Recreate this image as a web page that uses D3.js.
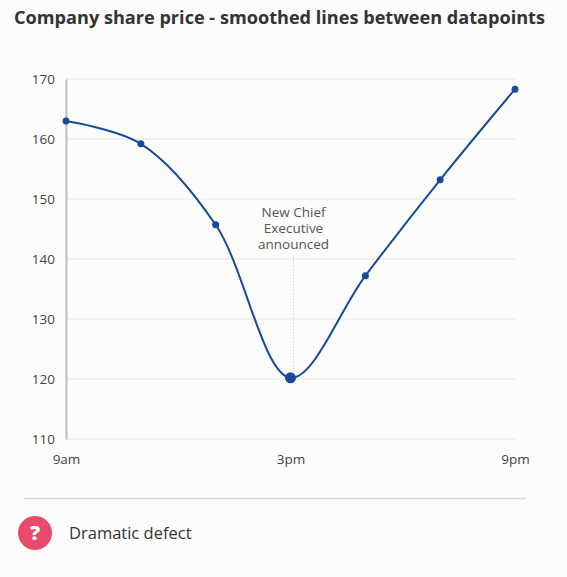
<!DOCTYPE html>
<html>
<head>
<meta charset="utf-8">
<script src="https://cdn.jsdelivr.net/npm/d3@7"></script>
<style>
  html, body { margin: 0; padding: 0; background: #fcfcfb; }
  svg { display: block; font-family: "Open Sans", sans-serif; }
</style>
</head>
<body>
<svg id="chart" width="567" height="577"></svg>
<script>
// share price through the day
const hours = [9, 11, 13, 15, 17, 19, 21];
const prices = [163, 159.2, 145.7, 120.2, 137.2, 153.2, 168.3];
const highlightHour = 15;

const yTicks = [110, 120, 130, 140, 150, 160, 170];
const xTicks = [9, 15, 21];
const xTickLabels = ['9am', '3pm', '9pm'];

const annotationLines = ['New Chief', 'Executive', 'announced'];
const title = 'Company share price - smoothed lines between datapoints';
const footnote = 'Dramatic defect';

const svg = d3.select('#chart');
const margin = {top: 79, left: 66, right: 52, bottom: 138};
const plotW = 567 - margin.left - margin.right;
const plotH = 577 - margin.top - margin.bottom;

svg.append('text')
  .attr('x', 14).attr('y', 24)
  .attr('font-size', 17).attr('font-weight', 700)
  .attr('fill', '#333')
  .attr('textLength', 531)
  .attr('lengthAdjust', 'spacingAndGlyphs')
  .text(title);

const g = svg.append('g')
  .attr('transform', 'translate(' + margin.left + ',' + margin.top + ')');

const x = d3.scaleLinear().domain([9, 21]).range([0, plotW]);
const y = d3.scaleLinear().domain([110, 170]).range([plotH, 0]);

// gridlines
g.append('g')
  .selectAll('line')
  .data(yTicks)
  .join('line')
    .attr('x1', 0).attr('x2', plotW)
    .attr('y1', d => y(d)).attr('y2', d => y(d))
    .attr('stroke', '#e6e6e6').attr('stroke-width', 1);

const yAxis = g.append('g')
  .call(d3.axisLeft(y).tickValues(yTicks).tickSize(0).tickPadding(11));
yAxis.select('.domain').attr('stroke', '#bbb').attr('stroke-width', 2);
yAxis.selectAll('text').attr('font-size', 13.5).attr('fill', '#444')
  .attr('font-family', '"Open Sans", sans-serif');

const xAxis = g.append('g')
  .attr('transform', 'translate(0,' + plotH + ')')
  .call(d3.axisBottom(x).tickValues(xTicks).tickFormat((d, i) => xTickLabels[i]).tickSize(0).tickPadding(15));
xAxis.select('.domain').remove();
xAxis.selectAll('text').attr('font-size', 13.5).attr('fill', '#444')
  .attr('font-family', '"Open Sans", sans-serif');

// annotation
const hi = hours.indexOf(highlightHour);
g.append('line')
  .attr('x1', x(highlightHour) + 3).attr('x2', x(highlightHour) + 3)
  .attr('y1', y(140.3)).attr('y2', y(prices[hi]))
  .attr('stroke', '#bbb').attr('stroke-width', 1)
  .attr('stroke-dasharray', '1,2');

g.append('text')
  .attr('text-anchor', 'middle')
  .attr('font-size', 13.5).attr('fill', '#555')
  .selectAll('tspan')
  .data(annotationLines)
  .join('tspan')
    .attr('x', x(highlightHour) + 3)
    .attr('y', (d, i) => y(147) + i * 16)
    .text(d => d);

// line
const data = hours.map((h, i) => ({h: h, v: prices[i]}));
const line = d3.line()
  .x(d => x(d.h))
  .y(d => y(d.v))
  .curve(d3.curveCatmullRom.alpha(0.5));

g.append('path')
  .datum(data)
  .attr('fill', 'none')
  .attr('stroke', '#164a9c')
  .attr('stroke-width', 2)
  .attr('d', line);

g.append('g')
  .selectAll('circle')
  .data(data)
  .join('circle')
    .attr('cx', d => x(d.h))
    .attr('cy', d => y(d.v))
    .attr('r', d => d.h === highlightHour ? 5.5 : 3.5)
    .attr('fill', '#164a9c');

// footer
svg.append('line')
  .attr('x1', 24).attr('x2', 526)
  .attr('y1', 498.5).attr('y2', 498.5)
  .attr('stroke', '#d5dbe7').attr('stroke-width', 1.5);

svg.append('circle')
  .attr('cx', 35).attr('cy', 533).attr('r', 17)
  .attr('fill', '#e84a6a');
svg.append('text')
  .attr('x', 35).attr('y', 540)
  .attr('text-anchor', 'middle')
  .attr('font-size', 20).attr('font-weight', 800)
  .attr('fill', '#fff')
  .text('?');
svg.append('text')
  .attr('x', 69).attr('y', 539)
  .attr('font-size', 16.5).attr('fill', '#333')
  .text(footnote);
</script>
</body>
</html>
